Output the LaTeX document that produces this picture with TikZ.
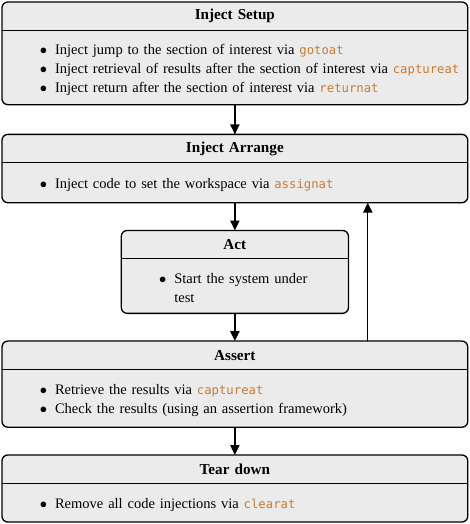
\documentclass[tikz,border=0pt]{standalone}
\usepackage{fontspec}
\setmainfont{Liberation Serif}
\setmonofont[Scale=0.845]{DejaVu Sans Mono}
\usepackage{enumitem}
\usepackage{xcolor}
\usepackage{tikz}
\usetikzlibrary{calc,positioning,backgrounds}
\usetikzlibrary{arrows.meta}

\definecolor{codeorange}{RGB}{204,122,48}
\definecolor{boxgray}{RGB}{235,235,235}
\newcommand{\injcmd}[1]{\texttt{\color{codeorange}#1}}
\setlist[itemize]{nosep,leftmargin=34pt,labelsep=6pt,label=$\bullet$,after=\vspace{3pt}}

\tikzset{
    stagehead/.style={text width=#1, align=center, minimum height=21pt,
        inner xsep=6pt, inner ysep=0pt, font=\fontsize{11.5}{13}\selectfont\bfseries},
    stagebody/.style={text width=#1, inner xsep=6pt, inner ysep=0pt,
        font=\fontsize{11}{14.4}\selectfont},
    stagebox/.style={draw, line width=1pt, rounded corners=4.5pt, fill=boxgray},
    flow/.style={-{Triangle[length=7.5pt,width=7pt]}, line width=1pt}
}

\begin{document}
\begin{tikzpicture}
% Stages of the test
\node[stagehead=340.5pt] (setup) {Inject Setup};
\node[stagebody=340.5pt, minimum height=56pt, below=0pt of setup] (setup-body) {
    \begin{itemize}
    \item Inject jump to the section of interest via \injcmd{gotoat}
    \item Inject retrieval of results after the section of interest via \injcmd{captureat}
    \item Inject return after the section of interest via \injcmd{returnat}
    \end{itemize}};

\node[stagehead=340.5pt, below=22.5pt of setup-body] (arrange) {Inject Arrange};
\node[stagebody=340.5pt, minimum height=30pt, below=0pt of arrange] (arrange-body) {
    \begin{itemize}
    \item Inject code to set the workspace via \injcmd{assignat}
    \end{itemize}};

\node[stagehead=159.75pt, below=21pt of arrange-body] (act) {Act};
\node[stagebody=159.75pt, minimum height=41pt, below=0pt of act] (act-body) {
    \begin{itemize}
    \item Start the system under\\ test
    \end{itemize}};

\node[stagehead=340.5pt, below=21pt of act-body] (assert) {Assert};
\node[stagebody=340.5pt, minimum height=43.5pt, below=0pt of assert] (assert-body) {
    \begin{itemize}
    \item Retrieve the results via \injcmd{captureat}
    \item Check the results (using an assertion framework)
    \end{itemize}};

\node[stagehead=340.5pt, below=21pt of assert-body] (tear) {Tear down};
\node[stagebody=340.5pt, minimum height=29pt, below=0pt of tear] (tear-body) {
    \begin{itemize}
    \item Remove all code injections via \injcmd{clearat}
    \end{itemize}};

% Boxes behind the text
\begin{scope}[on background layer]
\foreach \s in {setup,arrange,act,assert,tear} {
    \draw[stagebox] (\s.north west) rectangle (\s-body.south east);
}
\end{scope}
\foreach \s in {setup,arrange,act,assert,tear} {
    \draw[line width=1pt] (\s.south west) -- (\s.south east);
}

% Flow between the stages
\draw[flow] (setup-body) -- (arrange);
\draw[flow] (arrange-body) -- (act);
\draw[flow] (act-body) -- (assert);
\draw[flow] (assert-body) -- (tear);
\coordinate (loop) at ($(act-body.east |- assert.north)+(14.625pt,0)$);
\draw[flow] (loop) -- (loop |- arrange-body.south);

\useasboundingbox ([shift={(-1.5pt,1.5pt)}]setup.north west) rectangle ([shift={(1.5pt,-1.5pt)}]tear-body.south east);
\end{tikzpicture}
\end{document}
